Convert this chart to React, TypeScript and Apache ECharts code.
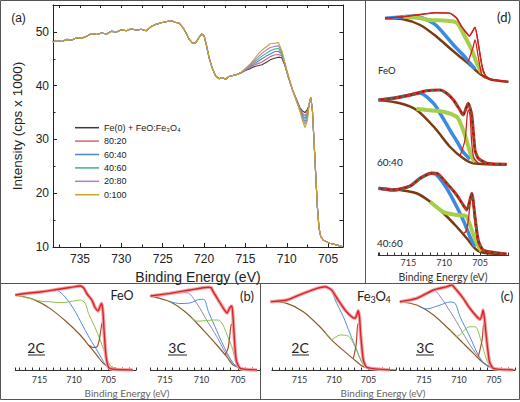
import { useEffect, useRef } from "react";
import * as echarts from "echarts";

type P = [number, number];

// ---------- Panel (a): survey spectra ----------
const LEGEND_A = ["Fe(0) + FeO:Fe₃O₄", "80:20", "60:40", "40:60", "20:80", "0:100"];
const COLORS_A = ["#3d3d3d", "#d9607a", "#4f86c0", "#45b08a", "#a87fd6", "#c9a227"];

const EV_HEAD = [738.3, 737.8, 737.2, 736.6, 736.0, 735.4, 734.8, 734.2, 733.6, 733.0, 732.4, 731.8, 731.2, 730.6, 730.0, 729.4, 728.8, 728.2, 727.6, 727.0, 726.4, 725.8, 725.2, 724.6, 724.0, 723.5, 723.0, 722.6, 722.2, 721.8, 721.4, 721.0, 720.6, 720.3, 720.0, 719.7, 719.4, 719.0, 718.6, 718.2, 717.8, 717.4, 717.0, 716.5, 716.0];
const HEAD = [48.1, 48.4, 48.2, 48.6, 48.5, 48.9, 48.8, 49.2, 49.7, 49.5, 49.8, 49.6, 50.1, 50.0, 50.4, 50.2, 50.6, 50.3, 50.5, 50.2, 51.0, 51.4, 51.7, 51.9, 52.1, 51.8, 51.6, 50.9, 49.9, 48.6, 47.9, 48.0, 49.0, 49.6, 49.3, 47.4, 45.2, 43.2, 41.8, 41.3, 41.5, 41.2, 41.7, 41.9, 42.1];

const EV_MID = [715.5, 715.0, 714.5, 714.0, 713.5, 713.0, 712.5, 712.0, 711.5, 711.0, 710.6, 710.2, 709.8, 709.3, 708.8, 708.4, 708.1, 707.8, 707.5];
const MID_FE0 = [42.4, 42.8, 43.1, 43.5, 43.7, 43.9, 44.3, 44.8, 45.1, 45.3, 45.2, 43.6, 41.5, 39.2, 37.4, 35.9, 35.3, 35.0, 35.6];
const MID_8020 = [42.4, 42.9, 43.3, 43.8, 44.1, 44.4, 44.9, 45.4, 45.7, 45.8, 45.5, 43.7, 41.6, 39.2, 37.3, 35.8, 34.9, 34.4, 35.2];
const MID_6040 = [42.4, 43.0, 43.5, 44.0, 44.5, 45.0, 45.5, 45.9, 46.3, 46.4, 45.8, 43.8, 41.6, 39.2, 37.2, 35.6, 34.6, 33.9, 34.8];
const MID_4060 = [42.5, 43.0, 43.6, 44.3, 44.9, 45.5, 46.0, 46.5, 46.8, 46.9, 46.0, 43.9, 41.7, 39.2, 37.1, 35.5, 34.3, 33.3, 34.4];
const MID_2080 = [42.5, 43.1, 43.8, 44.5, 45.3, 46.0, 46.6, 47.1, 47.3, 47.4, 46.3, 44.0, 41.7, 39.2, 37.1, 35.3, 33.9, 32.8, 34.0];
const MID_0100 = [42.5, 43.2, 43.9, 44.8, 45.8, 46.6, 47.2, 47.8, 47.9, 48.0, 46.5, 44.1, 41.8, 39.2, 37.0, 35.2, 33.5, 32.2, 33.5];
const MIDS_A = [MID_FE0, MID_8020, MID_6040, MID_4060, MID_2080, MID_0100];

const EV_TAIL = [707.3, 707.1, 706.9, 706.7, 706.5, 706.3, 706.1, 705.9, 705.6, 705.2, 704.8, 704.3, 703.8, 703.3];
const TAIL = [36.5, 37.8, 35.5, 29.5, 23.5, 17.5, 13.5, 12.0, 11.3, 11.0, 10.7, 10.5, 10.3, 10.1];

const X_TICKS_A = [705, 710, 715, 720, 725, 730, 735];
const X_MINOR_A = [707.5, 712.5, 717.5, 722.5, 727.5, 732.5, 737.5];
const Y_TICKS_A = [10, 20, 30, 40, 50];
const Y_MINOR_A = [15, 25, 35, 45];
const Y_RIGHT_A = [15, 20, 25, 30, 35, 40, 45, 50];

// ---------- Panel (b): FeO fits ----------
const ENV_B2: P[] = [[718.5, 88.2], [717.1, 90.0], [714.9, 91.8], [712.5, 94.7], [710.6, 97.0], [709.1, 98.8], [708.6, 96.5], [708.1, 89.4], [707.4, 82.3], [707.0, 74.4], [706.5, 69.4], [706.2, 75.3], [706.0, 78.4], [705.8, 68.2], [705.65, 47.0], [705.5, 29.4], [705.35, 15.6], [705.0, 3.2], [704.3, 0.8], [701.5, 0]];
const BG_B2: P[] = [[718.5, 88.2], [715.9, 83.1], [713.5, 72.5], [711.1, 56.8], [709.1, 41.2], [707.9, 29.4], [706.7, 17.6], [705.75, 7.8], [704.8, 3.2], [703.3, 0.8], [701.5, 0]];
const BLUE_B2: P[] = [[718.5, 88.2], [717.1, 90.0], [714.9, 91.8], [712.75, 94.4], [711.55, 88.2], [710.1, 72.6], [708.65, 50.9], [707.45, 33.3], [706.7, 23.5], [706.0, 13.8], [705.25, 4.1], [704.0, 0.6]];
const GREEN_B2: P[] = [[718.5, 88.2], [715.9, 83.1], [714.5, 80.5], [713.5, 80.3], [712.0, 79.2], [710.6, 80.3], [709.1, 82.3], [708.4, 78.8], [707.9, 66.7], [707.0, 50.9], [706.2, 35.3], [705.5, 19.6], [704.8, 5.9], [703.6, 0.6]];
const RED_B2: P[] = [[707.9, 29.4], [707.2, 26.5], [706.7, 27.0], [706.4, 33.0], [706.15, 45.0], [705.95, 55.0], [705.85, 56.5], [705.65, 41.2], [705.45, 21.2], [705.2, 7.1], [704.5, 1.2], [703.5, 0.3]];

const ENV_B3: P[] = [[717.0, 87.0], [714.3, 90.2], [711.6, 94.1], [709.1, 97.3], [708.7, 97.0], [708.4, 92.1], [707.7, 82.3], [707.0, 72.6], [706.5, 67.0], [706.15, 72.9], [705.85, 75.3], [705.7, 64.7], [705.55, 43.5], [705.25, 11.8], [704.7, 2.0], [702.4, 0]];
const BG_B3: P[] = [[717.0, 87.0], [714.3, 80.3], [712.0, 66.7], [709.75, 47.0], [707.9, 29.4], [706.55, 15.6], [705.65, 5.9], [703.8, 0.8], [702.4, 0]];
const PURPLE_B3: P[] = [[717.0, 87.0], [714.3, 90.2], [712.0, 90.9], [710.65, 78.4], [709.3, 58.8], [707.9, 39.2], [706.8, 21.5], [706.1, 13.5], [705.3, 4.5], [704.0, 0.6]];
const BLUE_B3: P[] = [[714.3, 80.3], [712.95, 78.2], [711.6, 78.8], [710.2, 83.1], [709.65, 82.9], [709.05, 68.6], [708.15, 51.0], [707.25, 33.3], [706.35, 17.6], [705.65, 7.9], [704.75, 1.8]];
const GREEN_B3: P[] = [[711.3, 61.0], [710.65, 57.5], [709.5, 58.0], [708.4, 58.8], [707.7, 58.8], [707.05, 52.9], [706.5, 41.2], [705.85, 27.4], [705.2, 8.2], [704.45, 1.8]];
const RED_B3: P[] = [[706.8, 17.6], [706.35, 25.9], [705.95, 52.9], [705.8, 54.1], [705.6, 41.2], [705.4, 23.5], [705.2, 9.4], [704.7, 1.8]];

// ---------- Panel (c): Fe3O4 fits ----------
const ENV_C2: P[] = [[719.3, 80.3], [716.85, 82.3], [714.45, 90.2], [712.5, 96.1], [711.3, 98.0], [710.35, 94.1], [709.4, 82.3], [708.4, 70.6], [707.45, 62.7], [706.95, 60.8], [706.65, 66.0], [706.5, 69.7], [706.3, 62.0], [706.15, 43.2], [705.75, 11.8], [705.25, 3.2], [701.9, 0]];
const BG_C2: P[] = [[719.3, 80.3], [716.85, 78.4], [714.45, 68.6], [712.05, 50.9], [710.1, 33.3], [708.15, 19.6], [706.7, 9.8], [705.75, 3.9], [703.8, 0.8], [701.0, 0]];
const BLUE_C2: P[] = [[719.3, 80.3], [716.85, 82.3], [714.45, 90.2], [712.5, 96.1], [711.3, 98.0], [710.5, 94.5], [709.6, 78.4], [708.65, 62.7], [707.7, 43.2], [706.7, 23.5], [706.0, 9.8], [705.35, 2.4]];
const GREEN_C2: P[] = [[711.2, 43.0], [710.35, 35.8], [709.15, 41.2], [707.95, 40.0], [706.95, 27.4], [706.25, 13.8], [705.65, 4.7], [704.8, 0.8]];
const RED_C2: P[] = [[707.2, 13.8], [706.8, 29.4], [706.5, 54.9], [706.25, 52.9], [706.0, 27.4], [705.7, 14.1], [705.5, 5.9], [704.95, 1.2]];

const ENV_C3: P[] = [[718.45, 80.3], [716.05, 84.3], [713.65, 94.1], [711.75, 98.0], [711.05, 100], [710.35, 94.1], [709.4, 84.3], [708.45, 72.6], [707.45, 62.7], [707.0, 59.6], [706.7, 65.0], [706.55, 70.6], [706.35, 60.0], [706.15, 43.1], [705.65, 9.8], [705.1, 2.0], [702.25, 0]];
const BG_C3: P[] = [[718.45, 80.3], [716.05, 76.4], [713.65, 64.7], [711.3, 47.0], [709.4, 31.4], [707.95, 19.6], [706.55, 8.6], [705.1, 2.0], [703.45, 0.4], [702.0, 0]];
const PURPLE_C3: P[] = [[718.45, 80.3], [716.05, 84.3], [713.65, 94.1], [712.5, 84.3], [711.55, 72.6], [710.35, 56.8], [709.15, 39.2], [707.95, 23.5], [706.75, 10.5], [705.8, 3.2]];
const BLUE_C3: P[] = [[715.6, 74.2], [714.6, 72.0], [712.7, 76.4], [711.3, 80.0], [710.55, 78.4], [709.85, 62.7], [708.45, 39.2], [707.25, 17.6], [706.45, 8.5], [705.55, 3.5]];
const GREEN_C3: P[] = [[711.3, 47.0], [710.35, 39.5], [708.45, 50.9], [707.7, 50.9], [706.75, 31.4], [706.05, 11.8], [705.55, 4.7], [704.85, 1.2]];
const RED_C3: P[] = [[707.25, 15.6], [706.7, 35.3], [706.45, 54.9], [706.2, 47.0], [705.8, 15.6], [705.55, 7.1], [705.0, 1.2]];

// ---------- Panel (d): mixtures ----------
const ENV_D1: P[] = [[718.25, 94.7], [715.7, 95.3], [712.9, 96.4], [711.05, 96.9], [709.2, 96.7], [708.25, 94.7], [707.55, 91.3], [706.85, 88.7], [706.5, 87.6], [706.1, 89.2], [705.7, 91.1], [705.25, 84.7], [704.75, 76.0], [704.3, 72.0], [703.6, 70.3], [701.05, 69.3]];
const BG_D1: P[] = [[718.25, 94.7], [715.7, 94.3], [713.35, 92.0], [711.05, 87.3], [709.2, 82.7], [707.8, 79.3], [706.4, 76.0], [705.0, 72.4], [703.6, 70.3], [701.05, 69.3]];
const BLUE_D1: P[] = [[718.25, 94.7], [715.7, 95.3], [714.3, 95.6], [711.5, 92.7], [710.1, 88.7], [708.7, 84.0], [707.35, 80.0], [706.4, 76.7], [705.7, 74.4]];
const GREEN_D1: P[] = [[715.7, 95.3], [713.5, 94.8], [712.0, 94.0], [709.65, 93.7], [708.25, 92.9], [707.1, 87.3], [706.15, 82.0], [705.45, 76.7], [704.75, 72.7]];
const RED_D1: P[] = [[706.65, 77.3], [705.95, 83.3], [705.7, 86.0], [705.25, 79.3], [704.75, 72.0], [704.3, 70.8]];

const ENV_D2: P[] = [[719.15, 62.0], [717.1, 62.7], [714.75, 64.0], [712.45, 65.7], [710.6, 66.0], [709.65, 64.7], [708.7, 62.0], [707.8, 58.0], [707.35, 56.0], [706.65, 60.7], [706.15, 56.0], [705.7, 42.0], [705.25, 38.7], [704.05, 36.7], [701.3, 36.3]];
const BG_D2: P[] = [[719.15, 62.0], [716.15, 60.7], [713.85, 58.0], [711.3, 50.8], [709.2, 43.3], [707.35, 38.7], [705.95, 36.7], [703.6, 36.3], [701.3, 36.2]];
const BLUE_D2: P[] = [[719.15, 62.0], [717.1, 62.7], [714.75, 64.0], [713.35, 64.7], [711.5, 60.7], [710.6, 56.8], [709.2, 50.0], [708.25, 45.6], [707.35, 41.2], [706.4, 38.4]];
const GREEN_D2: P[] = [[713.85, 58.5], [712.45, 58.0], [710.1, 57.3], [708.25, 55.3], [707.8, 53.2], [707.1, 48.0], [706.65, 43.6], [706.15, 39.2], [705.7, 37.2]];
const RED_D2: P[] = [[707.8, 39.6], [707.1, 46.0], [706.65, 58.0], [706.4, 56.0], [706.15, 44.7], [705.85, 38.8], [705.25, 36.8]];

const ENV_D3: P[] = [[719.15, 26.7], [717.1, 26.0], [714.75, 27.6], [713.35, 30.7], [711.75, 32.7], [711.05, 32.7], [709.65, 28.7], [708.25, 24.0], [707.35, 20.0], [706.85, 18.0], [706.15, 24.7], [705.7, 15.3], [705.25, 6.0], [704.55, 2.0], [701.3, 0.4]];
const BG_D3: P[] = [[719.15, 26.7], [716.15, 26.0], [713.85, 24.7], [711.95, 21.3], [710.1, 16.7], [708.25, 11.3], [706.85, 6.7], [705.45, 2.0], [704.05, 0.7], [701.3, 0.4]];
const BLUE_D3: P[] = [[719.15, 26.7], [717.1, 26.0], [714.75, 27.6], [713.35, 30.7], [711.75, 32.7], [711.05, 32.0], [709.65, 26.7], [708.25, 19.3], [707.35, 14.0], [706.4, 7.3], [705.7, 3.3]];
const GREEN_D3: P[] = [[711.95, 21.3], [710.1, 17.2], [709.2, 16.5], [708.25, 16.0], [707.3, 15.8], [706.85, 15.3], [706.15, 10.0], [705.45, 4.7], [704.8, 1.5]];
const RED_D3: P[] = [[707.35, 8.5], [706.85, 10.0], [706.15, 24.0], [705.7, 12.7], [705.25, 4.7], [704.75, 2.0]];

// ---------- helpers ----------
const AR = "Liberation Sans, Arial, sans-serif";
const CAL = "Lato, Open Sans, sans-serif";

function buildA(mid: number[]): P[] {
  const d: P[] = [];
  EV_HEAD.forEach((x, i) => d.push([x, HEAD[i]]));
  EV_MID.forEach((x, i) => d.push([x, mid[i]]));
  EV_TAIL.forEach((x, i) => d.push([x, TAIL[i]]));
  return d;
}

function ln(data: P[], color: string, width: number, ai: number, z: number, extra: any = {}) {
  return {
    type: "line",
    data,
    xAxisIndex: ai,
    yAxisIndex: ai,
    symbol: "none",
    showSymbol: false,
    smooth: 0.3,
    silent: true,
    z,
    lineStyle: { color, width, ...(extra.lineStyle || {}) },
    itemStyle: { color },
    ...(extra.opts || {}),
  };
}

function fitSet(ai: number, env: P[], bg: P[], comps: [P[], string][], red: P[]) {
  const s: any[] = [ln(bg, "#8b5a2b", 1.2, ai, 2)];
  comps.forEach(([d, c]) => s.push(ln(d, c, 1, ai, 3)));
  s.push(ln(red, "#b4452f", 1.2, ai, 4));
  s.push(ln(env, "#f2a3a3", 3.5, ai, 5, { opts: { smooth: 0.2 } }));
  s.push(ln(env, "#d8222a", 1.4, ai, 6, { opts: { smooth: 0.2 } }));
  return s;
}

function smallX(gridIndex: number, min: number, max: number, fs: number, margin: number) {
  return {
    gridIndex,
    type: "value",
    min,
    max,
    inverse: true,
    interval: 1,
    axisLine: { show: true, onZero: false, lineStyle: { color: "#333", width: 1 } },
    axisTick: { show: true, inside: true, length: 2.5, lineStyle: { color: "#333" } },
    axisLabel: {
      show: true,
      fontSize: fs,
      color: "#333",
      margin,
      fontFamily: CAL,
      formatter: (v: number) => {
        const r = Math.round(v);
        return Math.abs(v - r) < 1e-6 && r % 5 === 0 ? String(r) : "";
      },
    },
    splitLine: { show: false },
  };
}
function smallY(gridIndex: number) {
  return { gridIndex, type: "value", min: 0, max: 100, show: false, splitLine: { show: false } };
}

function txt(x: number, y: number, text: string, fs: number, opts: any = {}) {
  const align = opts.align || "center";
  return {
    type: "text",
    x,
    y,
    silent: true,
    style: {
      text,
      fontSize: fs,
      fontFamily: opts.font || CAL,
      fill: opts.color || "#222",
      align,
      textAlign: align,
      verticalAlign: "middle",
      textVerticalAlign: "middle",
    },
  };
}
function uline(x1: number, x2: number, y: number) {
  return { type: "line", silent: true, shape: { x1, y1: y, x2, y2: y }, style: { stroke: "#222", lineWidth: 1 } };
}
function vline(x: number, y1: number, y2: number) {
  return { type: "line", silent: true, shape: { x1: x, y1, x2: x, y2 }, style: { stroke: "#555", lineWidth: 1 } };
}

export default function App() {
  const ref = useRef<HTMLDivElement>(null);
  useEffect(() => {
    const chart = echarts.init(ref.current!, undefined, { renderer: "svg" });
    const axLine = { show: true, onZero: false, lineStyle: { color: "#222", width: 1 } };
    const rangeA = { min: 703.2, max: 738.27, inverse: true };
    const seriesA = LEGEND_A.map((name, i) => ({
      name,
      type: "line",
      data: buildA(MIDS_A[i]),
      xAxisIndex: 0,
      yAxisIndex: 0,
      symbol: "none",
      showSymbol: false,
      silent: true,
      z: 2 + i,
      lineStyle: { color: COLORS_A[i], width: 1.1 },
      itemStyle: { color: COLORS_A[i] },
    }));

    const option: any = {
      animation: false,
      backgroundColor: "#fff",
      grid: [
        { left: 53, top: 5, width: 290, height: 242 },
        { left: 15.35, top: 285, width: 120.75, height: 85 },
        { left: 150.4, top: 285, width: 109.5, height: 85 },
        { left: 271.9, top: 285, width: 124.2, height: 85 },
        { left: 399.5, top: 285, width: 115.5, height: 85 },
        { left: 378.2, top: 5, width: 130.5, height: 250 },
      ],
      xAxis: [
        {
          gridIndex: 0, type: "value", ...rangeA, position: "bottom",
          axisLine: axLine,
          axisTick: { show: true, inside: true, length: 4, customValues: X_TICKS_A, lineStyle: { color: "#222" } },
          axisLabel: { show: true, customValues: X_TICKS_A, fontSize: 12, color: "#222", margin: 6, fontFamily: AR },
          splitLine: { show: false },
          name: "Binding Energy (eV)", nameLocation: "middle", nameGap: 18,
          nameTextStyle: { fontSize: 14, color: "#222", fontFamily: AR },
        },
        {
          gridIndex: 0, type: "value", ...rangeA, position: "bottom",
          axisLine: { show: false, onZero: false },
          axisTick: { show: true, inside: true, length: 2.5, customValues: X_MINOR_A, lineStyle: { color: "#222" } },
          axisLabel: { show: false }, splitLine: { show: false },
        },
        {
          gridIndex: 0, type: "value", ...rangeA, position: "top",
          axisLine: axLine,
          axisTick: { show: true, inside: true, length: 3, customValues: [...X_TICKS_A, ...X_MINOR_A], lineStyle: { color: "#222" } },
          axisLabel: { show: false }, splitLine: { show: false },
        },
        smallX(1, 701, 718.5, 9, 5),
        smallX(2, 702, 717, 9, 5),
        smallX(3, 701, 719, 9, 5),
        smallX(4, 702, 718.5, 9, 5),
        smallX(5, 701, 719.2, 9, 3),
      ],
      yAxis: [
        {
          gridIndex: 0, type: "value", min: 10, max: 55, position: "left",
          axisLine: axLine,
          axisTick: { show: true, inside: true, length: 4, customValues: Y_TICKS_A, lineStyle: { color: "#222" } },
          axisLabel: { show: true, customValues: Y_TICKS_A, fontSize: 12, color: "#222", margin: 4, fontFamily: AR },
          splitLine: { show: false },
          name: "Intensity (cps x 1000)", nameLocation: "middle", nameGap: 29,
          nameTextStyle: { fontSize: 13.5, color: "#222", fontFamily: AR },
        },
        {
          gridIndex: 0, type: "value", min: 10, max: 55, position: "left",
          axisLine: { show: false, onZero: false },
          axisTick: { show: true, inside: true, length: 2.5, customValues: Y_MINOR_A, lineStyle: { color: "#222" } },
          axisLabel: { show: false }, splitLine: { show: false },
        },
        {
          gridIndex: 0, type: "value", min: 10, max: 55, position: "right",
          axisLine: axLine,
          axisTick: { show: true, inside: true, length: 3.5, customValues: Y_RIGHT_A, lineStyle: { color: "#222" } },
          axisLabel: { show: false }, splitLine: { show: false },
        },
        smallY(1), smallY(2), smallY(3), smallY(4), smallY(5),
      ],
      legend: {
        data: LEGEND_A,
        orient: "vertical",
        left: 75,
        top: 121,
        icon: "rect",
        itemWidth: 24,
        itemHeight: 1.5,
        itemGap: 0,
        padding: 0,
        selectedMode: false,
        textStyle: { fontSize: 9, color: "#222", fontFamily: AR, lineHeight: 13.4 },
      },
      series: [
        ...seriesA,
        ...fitSet(3, ENV_B2, BG_B2, [[BLUE_B2, "#4f8ed6"], [GREEN_B2, "#8dbf4f"]], RED_B2),
        ...fitSet(4, ENV_B3, BG_B3, [[PURPLE_B3, "#8e86b8"], [BLUE_B3, "#4f8ed6"], [GREEN_B3, "#8dbf4f"]], RED_B3),
        ...fitSet(5, ENV_C2, BG_C2, [[BLUE_C2, "#4f8ed6"], [GREEN_C2, "#8dbf4f"]], RED_C2),
        ...fitSet(6, ENV_C3, BG_C3, [[PURPLE_C3, "#8e86b8"], [BLUE_C3, "#4f8ed6"], [GREEN_C3, "#8dbf4f"]], RED_C3),
        // panel (d)
        ln(BG_D1, "#7a3b10", 2.5, 7, 2),
        ln(BLUE_D1, "#3d8be0", 3.5, 7, 3),
        ln(GREEN_D1, "#a5cf4a", 4, 7, 4),
        ln(RED_D1, "#d62020", 1.3, 7, 5),
        ln(ENV_D1, "#8b1a1a", 1.2, 7, 6, { opts: { smooth: 0.2 } }),
        ln(ENV_D1, "#d62020", 1.4, 7, 7, { opts: { smooth: 0.2 } }),
        ln(BG_D2, "#7a3b10", 2.5, 7, 2),
        ln(BLUE_D2, "#3d8be0", 3.5, 7, 3),
        ln(GREEN_D2, "#a5cf4a", 4, 7, 4),
        ln(RED_D2, "#d62020", 1.3, 7, 5),
        ln(ENV_D2, "#d62020", 3, 7, 6, { opts: { smooth: 0.2 } }),
        ln(ENV_D2, "#2e8b2e", 2, 7, 7, { opts: { smooth: 0.2 }, lineStyle: { type: [2, 4] } }),
        ln(ENV_D2, "#222", 1.2, 7, 8, { opts: { smooth: 0.2 }, lineStyle: { type: [1, 5], dashOffset: 3 } }),
        ln(BG_D3, "#7a3b10", 2.5, 7, 2),
        ln(BLUE_D3, "#3d8be0", 3.5, 7, 3),
        ln(GREEN_D3, "#a5cf4a", 4, 7, 4),
        ln(RED_D3, "#d62020", 1.3, 7, 5),
        ln(ENV_D3, "#d62020", 3, 7, 6, { opts: { smooth: 0.2 } }),
        ln(ENV_D3, "#2e8b2e", 2, 7, 7, { opts: { smooth: 0.2 }, lineStyle: { type: [2, 4] } }),
        ln(ENV_D3, "#222", 1.2, 7, 8, { opts: { smooth: 0.2 }, lineStyle: { type: [1, 5], dashOffset: 3 } }),
      ],
      graphic: [
        { type: "rect", silent: true, shape: { x: 0.5, y: 0.5, width: 519, height: 399 }, style: { fill: "none", stroke: "#555", lineWidth: 1 } },
        vline(365.5, 0, 283),
        { type: "line", silent: true, shape: { x1: 0, y1: 283.5, x2: 520, y2: 283.5 }, style: { stroke: "#555", lineWidth: 1 } },
        vline(260.5, 283, 400),
        txt(18.5, 18, "(a)", 12, { font: AR }),
        txt(247, 296, "(b)", 13),
        txt(122, 295, "FeO", 12.5),
        txt(36, 347, "2C", 14),
        uline(28, 45, 355),
        txt(177, 347, "3C", 14),
        uline(168, 187, 355),
        txt(127, 393, "Binding Energy (eV)", 10, { color: "#6e6259" }),
        txt(507, 296, "(c)", 13),
        txt(357, 296, "Fe", 13, { align: "left" }),
        txt(370.5, 299.5, "3", 9, { align: "left" }),
        txt(375.5, 296, "O", 13, { align: "left" }),
        txt(385.5, 299.5, "4", 9, { align: "left" }),
        txt(300, 347, "2C", 14),
        uline(292, 309, 355),
        txt(425, 347, "3C", 14),
        uline(416, 434, 355),
        txt(383, 393, "Binding Energy (eV)", 10, { color: "#6e6259" }),
        txt(504, 17, "(d)", 13),
        txt(378, 70, "FeO", 9.5, { align: "left" }),
        txt(377, 162, "60:40", 10, { align: "left" }),
        txt(377, 243, "40:60", 10, { align: "left" }),
        txt(443, 276.5, "Binding Energy (eV)", 10.5, { color: "#333" }),
      ],
    };
    chart.setOption(option);
    return () => chart.dispose();
  }, []);
  return (
    <div
      ref={ref}
      style={{ position: "absolute", left: 0, top: 0, width: 520, height: 402, background: "#fff" }}
    />
  );
}
